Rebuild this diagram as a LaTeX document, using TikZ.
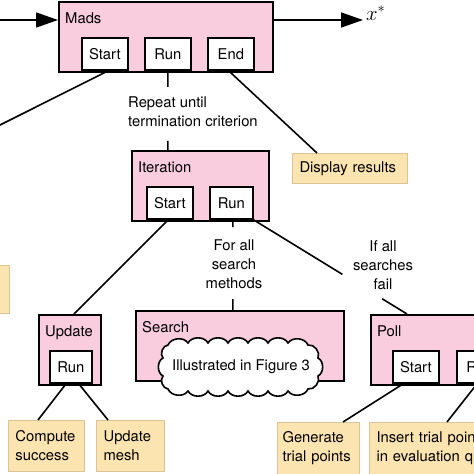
\documentclass[tikz,border=0pt]{standalone}
\usepackage{fontspec}
\setmainfont{TeX Gyre Heros}
\usetikzlibrary{arrows.meta,calc}
\definecolor{pinkfill}{RGB}{250,205,222}
\definecolor{orfill}{RGB}{252,228,176}
\definecolor{ordraw}{RGB}{218,196,150}
\newcommand{\dfont}{\fontsize{14.8}{19}\selectfont}
\tikzset{
  txt/.style={font=\dfont, inner sep=0pt},
  pinkbox/.style={draw=black, line width=1.8pt, fill=pinkfill, anchor=north west, inner sep=0pt, minimum height=70pt},
  subbox/.style={draw=black, line width=1.8pt, fill=white, anchor=south west, inner sep=0pt, minimum height=32pt, font=\dfont},
  orbox/.style={draw=ordraw, line width=1pt, fill=orfill, anchor=north west, inner xsep=7pt, inner ysep=0pt, align=left, font=\dfont},
  boxtitle/.style={txt, anchor=base west},
  conn/.style={line width=1.6pt},
  bigarrow/.style={conn, -{Triangle[length=22pt,width=15pt]}},
  puff/.style={bend left=62},
}
\begin{document}
\begin{tikzpicture}[x=1pt,y=-1pt]
\useasboundingbox (0,0) rectangle (474,474);
\clip (0,0) rectangle (474,474);

% ---- Mads
\node[pinkbox, minimum width=214pt] (mads) at (58,1) {};
\node[boxtitle] (madsT) at ($(mads.north west)+(7,22)$) {Mads};
\node[subbox, minimum width=46pt] (madsS) at (81,71) {Start};
\node[subbox, minimum width=46pt] (madsR) at (144,71) {Run};
\node[subbox, minimum width=46pt] (madsE) at (207,71) {End};

% ---- Iteration
\node[pinkbox, minimum width=137pt] (iter) at (131,150) {};
\node[boxtitle] (iterT) at ($(iter.north west)+(7,22)$) {Iteration};
\node[subbox, minimum width=46pt] (iterS) at (146,220) {Start};
\node[subbox, minimum width=43pt] (iterR) at (209,220) {Run};

% ---- Update
\node[pinkbox, minimum width=62pt] (upd) at (38,314) {};
\node[boxtitle] (updT) at ($(upd.north west)+(7,22)$) {Update};
\node[subbox, minimum width=42pt] (updR) at (49,384) {Run};

% ---- Search
\node[pinkbox, minimum width=208pt] (srch) at (135,310) {};
\node[boxtitle] (srchT) at ($(srch.north west)+(7,22)$) {Search};
\draw[line width=1.6pt, fill=white]
  (168,345) to[puff] (188,343) to[puff] (208,343) to[puff] (228,343) to[puff] (248,343)
  to[puff] (268,343) to[puff] (288,343) to[puff] (308,345) to[puff] (318,358)
  to[puff] (318,376) to[puff] (308,389) to[puff] (288,391) to[puff] (268,391)
  to[puff] (248,391) to[puff] (228,391) to[puff] (208,391) to[puff] (188,391)
  to[puff] (168,389) to[puff] (163,376) to[puff] (163,358) to[puff] (168,345) -- cycle;
\node[txt] (cldT) at (241,367) {Illustrated in Figure 3};

% ---- Poll
\node[pinkbox, minimum width=160pt] (poll) at (370,314) {};
\node[boxtitle] (pollT) at ($(poll.north west)+(7,22)$) {Poll};
\node[subbox, minimum width=46pt] (pollS) at (392,384) {Start};
\node[subbox, minimum width=46pt] (pollR) at (456,384) {Run};

% ---- orange boxes
\node[orbox, text width=101pt, minimum height=30pt] (disp) at (292,153) {Display results};
\node[orbox, text width=62pt, minimum height=51pt] (comp) at (8,420) {Compute\\success};
\node[orbox, text width=54pt, minimum height=51pt] (mesh) at (96,420) {Update\\mesh};
\node[orbox, inner xsep=5pt, text width=72pt, minimum height=52pt] (gen) at (277,422) {Generate\\trial points};
\node[orbox, text width=156pt, minimum height=52pt] (ins) at (369,422) {Insert trial points\\in evaluation queue};
\node[orbox, text width=40pt, minimum height=48pt] (lft) at (-45,265) {};

% ---- labels
\node[txt, align=left, anchor=north west] (rep) at (128,97) {Repeat until\\termination criterion};
\node[txt, align=center, anchor=north] (forall) at (234,240) {For all\\search\\methods};
\node[txt, align=center, anchor=north] (ifall) at (383,240) {If all\\searches\\fail};
\node[inner sep=0pt, anchor=base west, font=\fontsize{21}{24}\selectfont] (xs) at (366,20) {$x^*$};

% ---- connectors
\coordinate (inS) at (-2,20);
\draw[bigarrow] (inS) -- (inS -| mads.west);
\coordinate (outE) at (363,20);
\draw[bigarrow] (outE -| mads.east) -- (outE);

\coordinate (offL) at (-20,135);
\draw[conn] ($(madsS.south)+(3,0)$) -- (offL);

% Mads Run -> Iteration (broken by label)
\coordinate (mrA) at (madsR.south);
\coordinate (mrB) at (iter.north -| madsR.south);
\draw[conn] (mrA) -- ($(mrA)!0.2!(mrB)$);
\draw[conn] ($(mrA)!0.886!(mrB)$) -- (mrB);

% Mads End -> Display results
\draw[conn] ($(madsE.south)+(-2,0)$) -- ($(disp.north west)+(25,0)$);

% Iteration Start -> Update
\draw[conn] ($(iterS.south)+(-2,0)$) -- ($(upd.north)+(4,0)$);

% Iteration Run -> Search (broken by label)
\coordinate (irA) at ($(iterR.south)+(1.5,0)$);
\coordinate (irB) at (srch.north -| irA);
\draw[conn] (irA) -- ($(irA)!0.078!(irB)$);
\draw[conn] ($(irA)!0.878!(irB)$) -- (irB);

% Iteration Run -> Poll (broken by label)
\coordinate (ipA) at (iterR.south east);
\coordinate (ipB) at ($(poll.north west)+(37,0)$);
\draw[conn] (ipA) -- ($(ipA)!0.578!(ipB)$);
\draw[conn] ($(ipA)!0.838!(ipB)$) -- (ipB);

% Update Run -> orange boxes
\draw[conn] ($(updR.south)+(-5,0)$) -- ($(comp.north west)+(30,0)$);
\draw[conn] ($(updR.south)+(8,0)$) -- ($(mesh.north west)+(12,0)$);

% Poll -> orange boxes
\draw[conn] ($(pollS.south)+(-13,0)$) -- ($(gen.north west)+(66,0)$);
\draw[conn] ($(pollR.south)+(-3,0)$) -- ($(ins.north west)+(78,0)$);
\end{tikzpicture}
\end{document}
